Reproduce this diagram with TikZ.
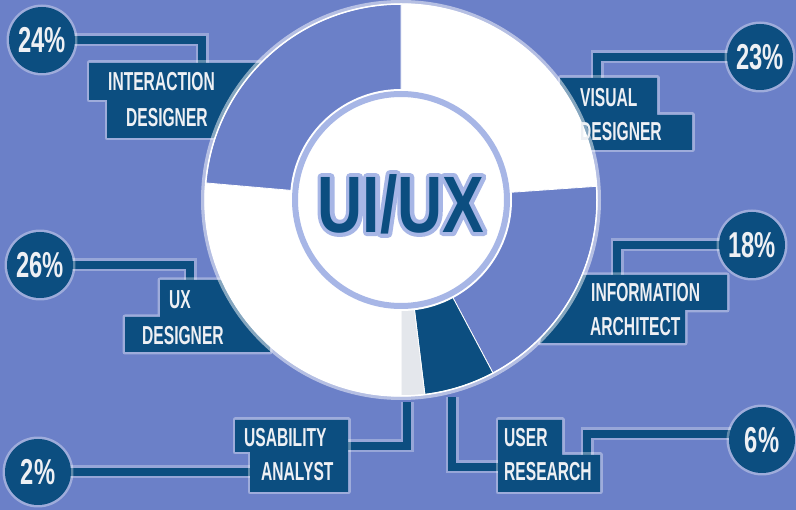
\documentclass[tikz,border=0pt]{standalone}
\usepackage{fontspec}
\setmainfont{Liberation Sans}[FakeStretch=0.66]
\newfontfamily\labf{Liberation Sans}[FakeStretch=0.6]
\newfontfamily\bigf{Liberation Sans}[FakeStretch=0.78]
\begin{document}
\definecolor{bg}{HTML}{6B80C8}
\definecolor{db}{HTML}{0C4E80}
\definecolor{lg}{HTML}{E4E7EC}
\definecolor{ring}{HTML}{A7B6E6}
\definecolor{tx}{HTML}{EEF0F4}
\begin{tikzpicture}[x=1pt,y=-1pt,
  glow/.style={preaction={draw=white,opacity=0.35,line width=5pt,line join=round}},
  box/.style={fill=db,glow},
  conn/.style={draw=db,line width=8pt,line join=miter,preaction={draw=white,opacity=0.3,line width=13pt}},
  pct/.style={circle,fill=db,minimum size=66pt,inner sep=0pt,text=tx,font=\bfseries\fontsize{36}{36}\selectfont,glow},
  lab/.style={text=tx,font=\labf\bfseries\fontsize{26}{26}\selectfont,inner sep=0pt,anchor=west},
  big/.style={inner sep=0pt,font=\bigf\bfseries\fontsize{80}{80}\selectfont}]
\fill[bg] (0,0) rectangle (796,510);
\useasboundingbox (0,0) rectangle (796,510);
% connectors
\draw[conn] (42,40) -- (202,40) -- (202,66);
\draw[conn] (760,57) -- (597,57) -- (597,81);
\draw[conn] (752,245) -- (617,245) -- (617,278);
\draw[conn] (40,265) -- (190,265) -- (190,283);
\draw[conn] (38,472) -- (253,472);
\draw[conn] (407,402) -- (407,446) -- (345,446);
\draw[conn] (452,397) -- (452,467) -- (500,467);
\draw[conn] (762,434) -- (587,434) -- (587,458);
% boxes
\fill[box] (89,63) -- (260,63) -- (260,138) -- (107,138) -- (107,100) -- (89,100) -- cycle;
\fill[box] (560,78) -- (657,78) -- (657,115) -- (692,115) -- (692,150) -- (560,150) -- cycle;
\fill[box] (560,275) -- (727,275) -- (727,310) -- (685,310) -- (685,343) -- (540,343) -- cycle;
\fill[box] (160,280) -- (250,280) -- (270,317) -- (270,352) -- (125,352) -- (125,317) -- (160,317) -- cycle;
\fill[box] (235,420) -- (348,420) -- (348,492) -- (250,492) -- (250,452) -- (235,452) -- cycle;
\fill[box] (498,420) -- (562,420) -- (562,455) -- (600,455) -- (600,492) -- (498,492) -- cycle;
% percentage circles
\node[pct] (p24) at (42,40) {24\%};
\node[pct] (p23) at (760,57) {23\%};
\node[pct] (p18) at (752,245) {18\%};
\node[pct] (p26) at (40,265) {26\%};
\node[pct] (p2) at (38,472) {2\%};
\node[pct] (p6) at (762,440) {6\%};
% donut
\fill[white,opacity=0.5] (401,200) circle (200);
\newcommand\seg[3]{\fill[#3,draw=white,line width=0.8pt] plot[domain=#1:#2,samples=50] ({401+196*cos(\x)},{200-196*sin(\x)}) -- plot[domain=#2:#1,samples=50] ({401+110*cos(\x)},{200-110*sin(\x)}) -- cycle;}
\seg{90}{4}{white}
\seg{4}{-62}{bg}
\seg{-62}{-83}{db}
\seg{-83}{-90}{lg}
\seg{-90}{-185}{white}
\seg{-185}{-270}{bg}
\draw[white,line width=1.5pt] (401,200) circle (196);
\fill[white] (401,200) circle (111);
\draw[ring,line width=6pt] (401,200) circle (106);
\fill[white] (401,200) circle (102);
\node[big,text=ring] (uio) at (401,204) {\special{pdf:code 2 Tr 8 w 1 j}UI/UX\special{pdf:code 0 Tr 1 w}};
\node[big,text=db] (ui) at (401,204) {UI/UX};
% labels
\node[lab] (l1a) at (108,82) {INTERACTION};
\node[lab] (l1b) at (126,118) {DESIGNER};
\node[lab] (l2a) at (580,98) {VISUAL};
\node[lab] (l2b) at (580,132) {DESIGNER};
\node[lab] (l3a) at (591,293) {INFORMATION};
\node[lab] (l3b) at (590,327) {ARCHITECT};
\node[lab] (l4a) at (169,300) {UX};
\node[lab] (l4b) at (142,336) {DESIGNER};
\node[lab] (l5a) at (244,438) {USABILITY};
\node[lab] (l5b) at (261,472) {ANALYST};
\node[lab] (l6a) at (504,438) {USER};
\node[lab] (l6b) at (504,472) {RESEARCH};
\end{tikzpicture}
\end{document}
